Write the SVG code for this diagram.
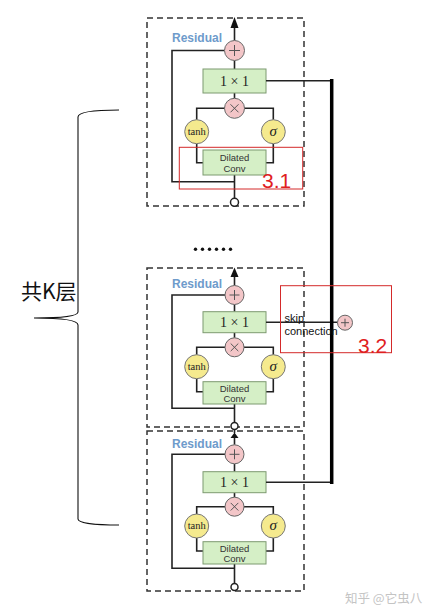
<svg xmlns="http://www.w3.org/2000/svg" width="441" height="615" viewBox="0 0 441 615">
<defs>
<style>
.frame{fill:none;stroke:#333;stroke-width:1.5;stroke-dasharray:6 4}
.ln{fill:none;stroke:#222;stroke-width:1.6}
.op{fill:#f3c6c8;stroke:#666;stroke-width:1}
.sym{fill:none;stroke:#555;stroke-width:1}
.act{fill:#f5ea8e;stroke:#777;stroke-width:1}
.box{fill:#d5efc6;stroke:#7d9a70;stroke-width:1}
.in{fill:#fff;stroke:#222;stroke-width:1.5}
.res{font-family:"Liberation Sans",Arial,sans-serif;font-weight:bold;font-size:12px;fill:#6e9bcb}
.mat{font-family:"Liberation Serif","Times New Roman",serif;font-size:14px;fill:#222;text-anchor:middle}
.tanh{font-family:"Liberation Serif","Times New Roman",serif;font-size:10.5px;fill:#222;text-anchor:middle}
.sig{font-family:"Liberation Serif","Times New Roman",serif;font-style:italic;font-size:15px;fill:#222;text-anchor:middle}
.dc{font-family:"Liberation Sans",Arial,sans-serif;font-size:9.5px;fill:#333;text-anchor:middle}
.red{fill:none;stroke:#d42a2a;stroke-width:1}
.redt{font-family:"Liberation Sans",Arial,sans-serif;font-size:21px;fill:#e0201e}
.lbl{font-family:"Liberation Sans",Arial,sans-serif;font-size:11px;fill:#111}
</style>
</defs>
<rect width="441" height="615" fill="#fff"/>

<!-- Block 1 -->
<g id="block1">
<rect class="frame" x="147" y="18" width="157" height="188"/>
<path class="ln" d="M224.5,50.5 H172 V181.7 H234.5"/>
<path class="ln" d="M234.5,40.5 V27"/>
<polygon points="234.5,17 230.5,28 238.5,28" fill="#111"/>
<text class="res" x="172" y="42">Residual</text>
<path class="ln" d="M234.5,60.5 V69 M234.5,93 V98.3"/>
<path class="ln" d="M196.7,119.7 V108.3 H273.3 V119.7"/>
<path class="ln" d="M196.7,143.7 V162.7 H203 M273.3,143.7 V162.7 H266"/>
<path class="ln" d="M234.5,175 V198.3"/>
<g id="b1-add"><circle class="op" cx="234.5" cy="50.5" r="10"/><path class="sym" d="M229,50.5 H240 M234.5,45 V56"/></g>
<g id="b1-conv1x1"><rect class="box" x="203" y="69" width="63" height="24"/><text class="mat" x="234.5" y="86">1 × 1</text></g>
<g id="b1-mul"><circle class="op" cx="234.5" cy="108.3" r="10"/><path class="sym" d="M230.5,104.3 L238.5,112.3 M238.5,104.3 L230.5,112.3"/></g>
<g id="b1-tanh"><circle class="act" cx="196.7" cy="131.7" r="12"/><text class="tanh" x="196.7" y="135">tanh</text></g>
<g id="b1-sigma"><circle class="act" cx="273.3" cy="131.7" r="12"/><text class="sig" x="273.3" y="136">σ</text></g>
<g id="b1-dilated"><rect class="box" x="203" y="150" width="63" height="25"/><text class="dc" x="234.5" y="160.5">Dilated</text><text class="dc" x="234.5" y="171.5">Conv</text></g>
<circle class="in" cx="234.5" cy="202.3" r="4"/>
</g>

<!-- dots -->
<g id="ellipsis" fill="#111">
<circle cx="195.5" cy="249.3" r="1.7"/><circle cx="202.5" cy="249.3" r="1.7"/><circle cx="209.5" cy="249.3" r="1.7"/>
<circle cx="216.5" cy="249.3" r="1.7"/><circle cx="223.5" cy="249.3" r="1.7"/><circle cx="230.5" cy="249.3" r="1.7"/>
</g>

<!-- Block 2 -->
<g id="block2">
<rect class="frame" x="147" y="268" width="157" height="159"/>
<path class="ln" d="M225,295 H172 V408.3 H234.5"/>
<path class="ln" d="M234.5,285.5 V276"/>
<polygon points="234.5,267.5 230.5,277 238.5,277" fill="#111"/>
<text class="res" x="172" y="288.3">Residual</text>
<path class="ln" d="M234.5,304.5 V311.7 M234.5,332.7 V337.8"/>
<path class="ln" d="M196.7,354.7 V347.3 H273.3 V354.7"/>
<path class="ln" d="M196.7,378.7 V391.7 H203 M273.3,378.7 V391.7 H266"/>
<path class="ln" d="M234.5,404 V422.5"/>
<g id="b2-add"><circle class="op" cx="234.5" cy="295" r="9.5"/><path class="sym" d="M229.5,295 H239.5 M234.5,290 V300"/></g>
<g id="b2-conv1x1"><rect class="box" x="203" y="311.7" width="63" height="21"/><text class="mat" x="234.5" y="327">1 × 1</text></g>
<g id="b2-mul"><circle class="op" cx="234.5" cy="347.3" r="9.5"/><path class="sym" d="M230.7,343.5 L238.3,351.1 M238.3,343.5 L230.7,351.1"/></g>
<g id="b2-tanh"><circle class="act" cx="196.7" cy="366.7" r="12"/><text class="tanh" x="196.7" y="370">tanh</text></g>
<g id="b2-sigma"><circle class="act" cx="273.3" cy="366.7" r="12"/><text class="sig" x="273.3" y="371">σ</text></g>
<g id="b2-dilated"><rect class="box" x="203" y="381.7" width="63" height="22.3"/><text class="dc" x="234.5" y="391.5">Dilated</text><text class="dc" x="234.5" y="401.5">Conv</text></g>
<circle class="in" cx="234.5" cy="426" r="3.5"/>
</g>

<!-- Block 3 -->
<g id="block3">
<rect class="frame" x="147" y="431" width="157" height="160"/>
<path class="ln" d="M225,454.3 H172 V568.3 H234.5"/>
<path class="ln" d="M234.5,429.5 V433 M234.5,444.8 V437"/>
<polygon points="234.5,432.5 230.5,438 238.5,438" fill="#111"/>
<text class="res" x="172" y="448.3">Residual</text>
<path class="ln" d="M234.5,463.8 V471.7 M234.5,492.7 V497.2"/>
<path class="ln" d="M196.7,514 V506.7 H273.3 V514"/>
<path class="ln" d="M196.7,538 V551 H203 M273.3,538 V551 H266"/>
<path class="ln" d="M234.5,564 V583.5"/>
<g id="b3-add"><circle class="op" cx="234.5" cy="454.3" r="9.5"/><path class="sym" d="M229.5,454.3 H239.5 M234.5,449.3 V459.3"/></g>
<g id="b3-conv1x1"><rect class="box" x="203" y="471.7" width="63" height="21"/><text class="mat" x="234.5" y="487">1 × 1</text></g>
<g id="b3-mul"><circle class="op" cx="234.5" cy="506.7" r="9.5"/><path class="sym" d="M230.7,502.9 L238.3,510.5 M238.3,502.9 L230.7,510.5"/></g>
<g id="b3-tanh"><circle class="act" cx="196.7" cy="526" r="12"/><text class="tanh" x="196.7" y="529.3">tanh</text></g>
<g id="b3-sigma"><circle class="act" cx="273.3" cy="526" r="12"/><text class="sig" x="273.3" y="530.3">σ</text></g>
<g id="b3-dilated"><rect class="box" x="203" y="541.7" width="63" height="22.3"/><text class="dc" x="234.5" y="551.5">Dilated</text><text class="dc" x="234.5" y="561.5">Conv</text></g>
<circle class="in" cx="234.5" cy="587" r="3.5"/>
</g>

<!-- connectors -->
<g id="connectors">
<path class="ln" d="M266,80.7 H331.7"/>
<path class="ln" d="M266,322.3 H337.5"/>
<path class="ln" d="M266,482.3 H331.7"/>
<path d="M331.7,79 V484" fill="none" stroke="#000" stroke-width="3.5"/>
</g>

<g id="skip-add"><circle class="op" cx="345" cy="322.7" r="7.5"/><path class="sym" d="M341,322.7 H349 M345,318.7 V326.7"/></g>

<!-- annotations -->
<g id="ann-3-1">
<rect class="red" x="179.3" y="147.3" width="123.4" height="41.7"/>
<text class="redt" x="262" y="188">3.1</text>
</g>
<g id="ann-3-2">
<rect class="red" x="280.5" y="285.7" width="111" height="67"/>
<text class="redt" x="358" y="352.5">3.2</text>
<text class="lbl" x="284.5" y="321.7">skip</text>
<text class="lbl" x="284.5" y="335">connection</text>
</g>

<g id="brace">
<path d="M119,110 C95,110 78,111.5 78,117 L78,312 C78,316 62,318 34,318 C62,318 78,320 78,325 L78,519 C78,523 95,525 119,525" fill="none" stroke="#111" stroke-width="1.1"/>
<text x="21" y="299" font-family="'Noto Sans CJK SC','Liberation Sans',sans-serif" font-size="21" fill="#111">共K层</text>
</g>

<text x="345" y="603" font-family="'Noto Sans CJK SC',sans-serif" font-size="12.5" fill="#c4c4c4">知乎 @它虫八</text>
</svg>
